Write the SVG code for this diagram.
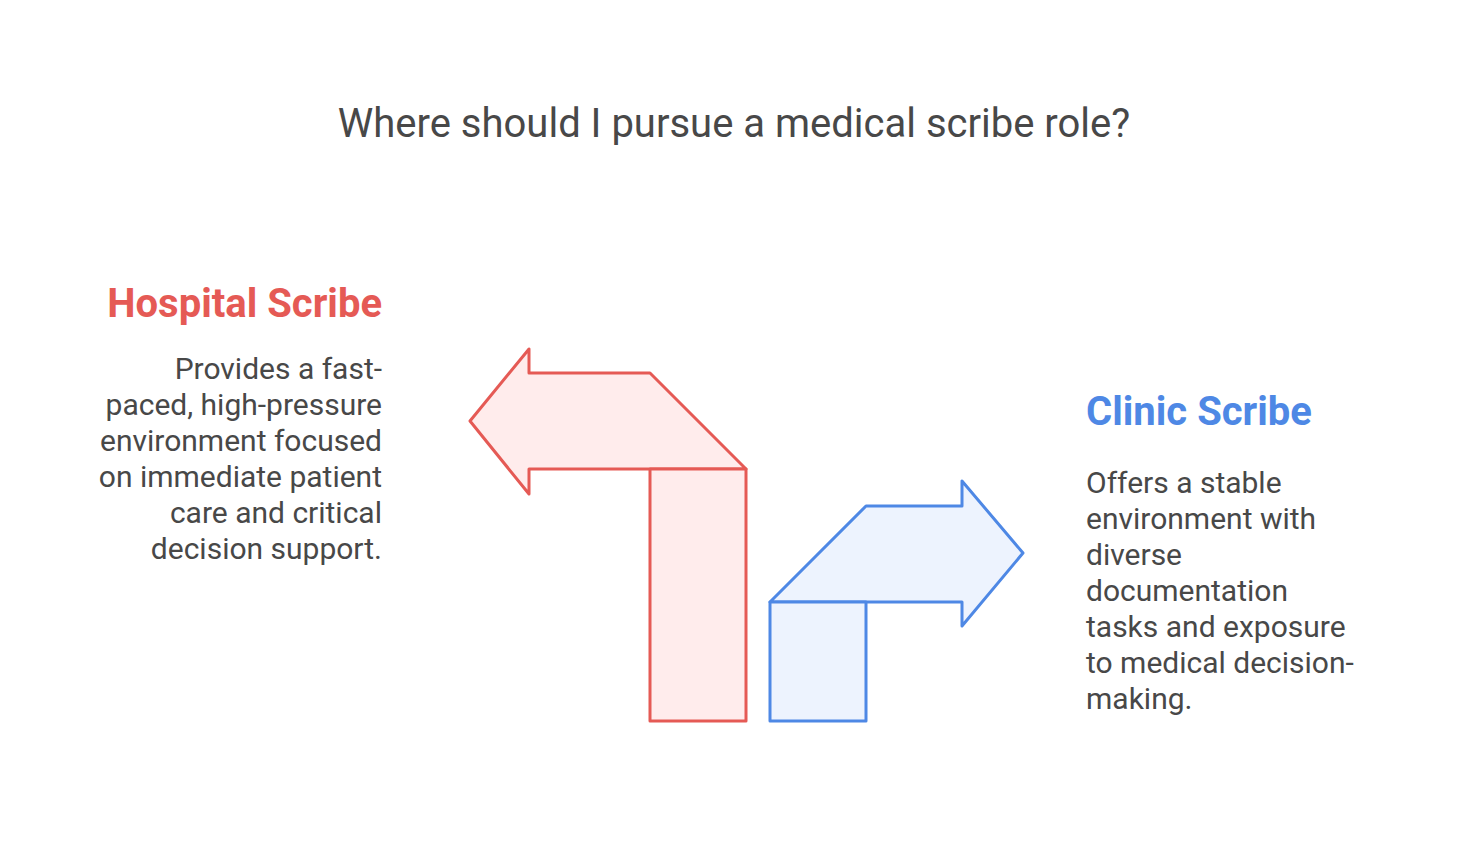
<svg xmlns="http://www.w3.org/2000/svg" width="1468" height="866" viewBox="0 0 1468 866">
<style>
.title{font-family:Roboto,"Liberation Sans",sans-serif;font-size:40px;fill:#484848}
.head{font-family:Roboto,"Liberation Sans",sans-serif;font-size:40px;font-weight:bold}
.body{font-family:Roboto,"Liberation Sans",sans-serif;font-size:30px;fill:#484848}
.r{text-anchor:end}
.red{fill:#FFECEC;stroke:#E55A55;stroke-width:3;stroke-linejoin:round}
.blue{fill:#EDF3FE;stroke:#4E88E5;stroke-width:3;stroke-linejoin:round}
</style>
<rect width="1468" height="866" fill="#ffffff"/>
<text class="title" x="734" y="137" text-anchor="middle">Where should I pursue a medical scribe role?</text>
<g id="connectors">
<g id="red-arrow">
<polygon class="red" points="470,421 529,349 529,373 650,373 746,469 529,469 529,494"/>
<rect class="red" x="650" y="469" width="96" height="252"/>
</g>
<g id="blue-arrow">
<polygon class="blue" points="1023,553 962,481 962,506 866,506 770,602 962,602 962,626"/>
<rect class="blue" x="770" y="602" width="96" height="119"/>
</g>
</g>
<g id="hospital">
<text class="head r" x="382" y="317" fill="#E55A55">Hospital Scribe</text>
<text class="body r" x="382" y="379">Provides a fast-</text>
<text class="body r" x="382" y="415">paced, high-pressure</text>
<text class="body r" x="382" y="451">environment focused</text>
<text class="body r" x="382" y="487">on immediate patient</text>
<text class="body r" x="382" y="523">care and critical</text>
<text class="body r" x="382" y="559">decision support.</text>
</g>
<g id="clinic">
<text class="head" x="1086" y="425" fill="#4E88E5">Clinic Scribe</text>
<text class="body" x="1086" y="493">Offers a stable</text>
<text class="body" x="1086" y="529">environment with</text>
<text class="body" x="1086" y="565">diverse</text>
<text class="body" x="1086" y="601">documentation</text>
<text class="body" x="1086" y="637">tasks and exposure</text>
<text class="body" x="1086" y="673">to medical decision-</text>
<text class="body" x="1086" y="709">making.</text>
</g>
</svg>
